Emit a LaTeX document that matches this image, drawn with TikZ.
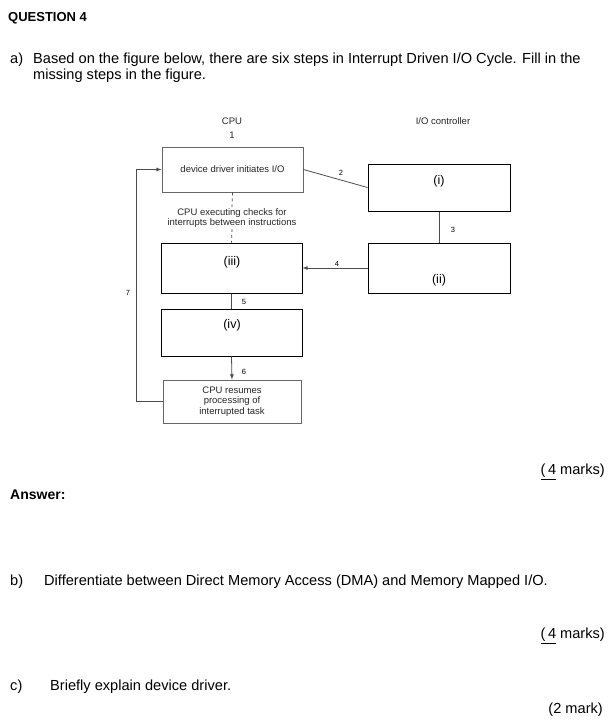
\documentclass[tikz,border=0pt]{standalone}
\usepackage{fontspec}
\setmainfont{Liberation Sans}
\begin{document}
\begin{tikzpicture}[x=1pt,y=-1pt,
  box/.style={draw=black!60,line width=0.8pt},
  bbox/.style={draw=black,line width=1pt},
  small/.style={font=\fontsize{9.5}{10.5}\selectfont,text=black!85},
  lbl/.style={font=\fontsize{7.5}{8}\selectfont},
  big/.style={font=\fontsize{12.5}{13}\selectfont},
  txt/.style={font=\fontsize{14.6}{16}\selectfont,anchor=west,inner sep=0pt},
  conn/.style={black!70,line width=0.8pt},
  >=latex]
\useasboundingbox (0,0) rectangle (610,728);
\node[txt,font=\fontsize{13}{15}\selectfont\bfseries] (q) at (8,18) {QUESTION 4};
\node[txt] (a) at (10,60) {a)};
\node[txt] (a1) at (33,60) {Based on the figure below, there are six steps in Interrupt Driven I/O Cycle. Fill in the};
\node[txt] (a2) at (33,76) {missing steps in the figure.};
% diagram
\node[small] (cpu) at (232,121) {CPU};
\node[small] (one) at (232,135) {1};
\node[small] (ioc) at (443,121) {I/O controller};
\node[box,minimum width=141,minimum height=45,small] (b1) at (232.5,169.5) {device driver initiates I/O};
\node[bbox,minimum width=142,minimum height=47] (bi) at (439,187.5) {};
\node[big] at (439,181) {(i)};
\node[small,align=center,inner sep=1pt] (chk) at (232,218) {CPU executing checks for\\interrupts between instructions};
\node[bbox,minimum width=141,minimum height=50] (biii) at (231.5,268) {};
\node[big] at (232,262) {(iii)};
\node[bbox,minimum width=142,minimum height=50] (bii) at (439,268) {};
\node[big] at (439,280) {(ii)};
\node[bbox,minimum width=141,minimum height=47] (biv) at (231.5,332.5) {};
\node[big] at (232,325) {(iv)};
\node[box,minimum width=138,minimum height=43,small,align=center,inner sep=1pt] (b6) at (232,401.5) {CPU resumes\\processing of\\interrupted task};
\draw[conn] (b1.east) -- (bi.west);
\draw[conn,dashed] (b1.south) -- (chk.north);
\draw[conn,dashed] (chk.south) -- (biii.north);
\draw[conn] (bi.south) -- (bii.north);
\draw[conn,->] (bii.west) -- (biii.east);
\draw[conn] (biii.south) -- (biv.north);
\draw[conn,->] (biv.south) -- (b6.north);
\coordinate (lp) at (136,0);
\draw[conn,->] (b6.west) -| (lp |- b1.west) -- (b1.west);
\node[lbl] at (341,173) {2};
\node[lbl] at (453,230) {3};
\node[lbl] at (337,264) {4};
\node[lbl] at (244,302) {5};
\node[lbl] at (244,372) {6};
\node[lbl] at (128,293) {7};
% text
\node[txt,anchor=east] (m1) at (605,472) {\underline{(\,4} marks)};
\node[txt,font=\fontsize{14}{16}\selectfont\bfseries] (ans) at (10,495) {Answer:};
\node[txt] (b) at (10,582) {b)};
\node[txt] (bt) at (44,582) {Differentiate between Direct Memory Access (DMA) and Memory Mapped I/O.};
\node[txt,anchor=east] (m2) at (605,636) {\underline{(\,4} marks)};
\node[txt] (c) at (10,687) {c)};
\node[txt] (ct) at (50,687) {Briefly explain device driver.};
\node[txt,anchor=east] (m3) at (603,710) {(2 mark)};
\end{tikzpicture}
\end{document}
